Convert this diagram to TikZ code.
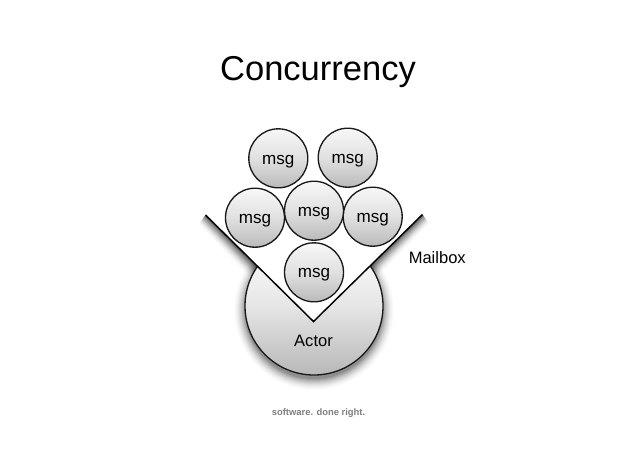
\documentclass[tikz,border=0pt]{standalone}
\usepackage{fontspec}
\setmainfont{Liberation Sans}
\usetikzlibrary{calc}
\tikzset{
  x=0.75pt,y=-0.75pt,
  msgball/.style={circle,draw=black!90,line width=1pt,minimum size=44.25pt,inner sep=0pt,
    text height=8pt,text depth=0pt,
    top color=black!3,bottom color=black!27,middle color=black!12,font=\fontsize{12.8pt}{14pt}\selectfont},
  lowtext/.style={text height=9.3pt},
  lbl/.style={inner sep=0pt,font=\fontsize{12.4pt}{14pt}\selectfont},
}
\begin{document}
\begin{tikzpicture}
\useasboundingbox (0,0) rectangle (638,451);
\fill[white] (0,0) rectangle (638,451);
\coordinate (apex) at (313.5,321.5);
\coordinate (vl) at (205.5,215);
\coordinate (vr) at (422.5,214.5);
\coordinate (il) at (255,264.5);
\coordinate (ir) at (371.5,264.5);
\coordinate (centre) at (314,306);
% actor shadow
\foreach \r/\o in {80/0.012,79/0.015,78/0.02,77/0.025,76/0.03,75/0.035,74/0.04,73/0.05,72/0.06,71/0.07,70/0.08,69/0.10}{
  \fill[black,opacity=\o] (314,310) circle[radius=\r];
}
% wedge shadows, soft bands widening away from the two lines
\foreach \d/\o in {13/0.015,12/0.02,11/0.025,10/0.03,9/0.04,8/0.05,7/0.06,6/0.07,5/0.08,4/0.09,3/0.10,2/0.12,1/0.15}{
  \fill[black,opacity=\o] (vl) -- ($(il)+(10,10)$) -- ($(il)+(10,10)+(-0.72*\d,0.69*\d)$) -- ($(vl)+(-0.5*\d,0.69*\d)$) -- cycle;
  \fill[black,opacity=\o] (vr) -- ($(ir)+(-10,10)$) -- ($(ir)+(-10,10)+(0.72*\d,0.69*\d)$) -- ($(vr)+(0.5*\d,0.69*\d)$) -- cycle;
}
% actor body
\path[top color=white,bottom color=black!28,middle color=black!10,draw=black!90,line width=1pt]
  (centre) circle[radius=69];
% wedge
\fill[white] (apex) -- (vl) -- (205.5,120) -- (422.5,120) -- (vr) -- cycle;
\draw[black,line width=1.1pt] (vl) -- (apex) -- (vr);
\node[lbl] (actor) at (313.5,340.5) {Actor};
\node[msgball,lowtext] (m1) at (278.3,158.3) {msg};
\node[msgball] (m2) at (347.7,157.7) {msg};
\node[msgball,lowtext] (m3) at (255,217.7) {msg};
\node[msgball] (m5) at (372.7,216.7) {msg};
\node[msgball] (m4) at (314,210.7) {msg};
\node[msgball] (m6) at (314,272.3) {msg};
\node[lbl,anchor=west] (mailbox) at (408.5,257.5) {Mailbox};
\node[inner sep=0pt,font=\fontsize{25.9pt}{30pt}\selectfont] (title) at (318,72) {Concurrency};
\node[inner sep=0pt,text=black!50,font=\bfseries\fontsize{7.05pt}{9pt}\selectfont] (tag) at (318.5,413) {software. done right.};
\end{tikzpicture}
\end{document}
